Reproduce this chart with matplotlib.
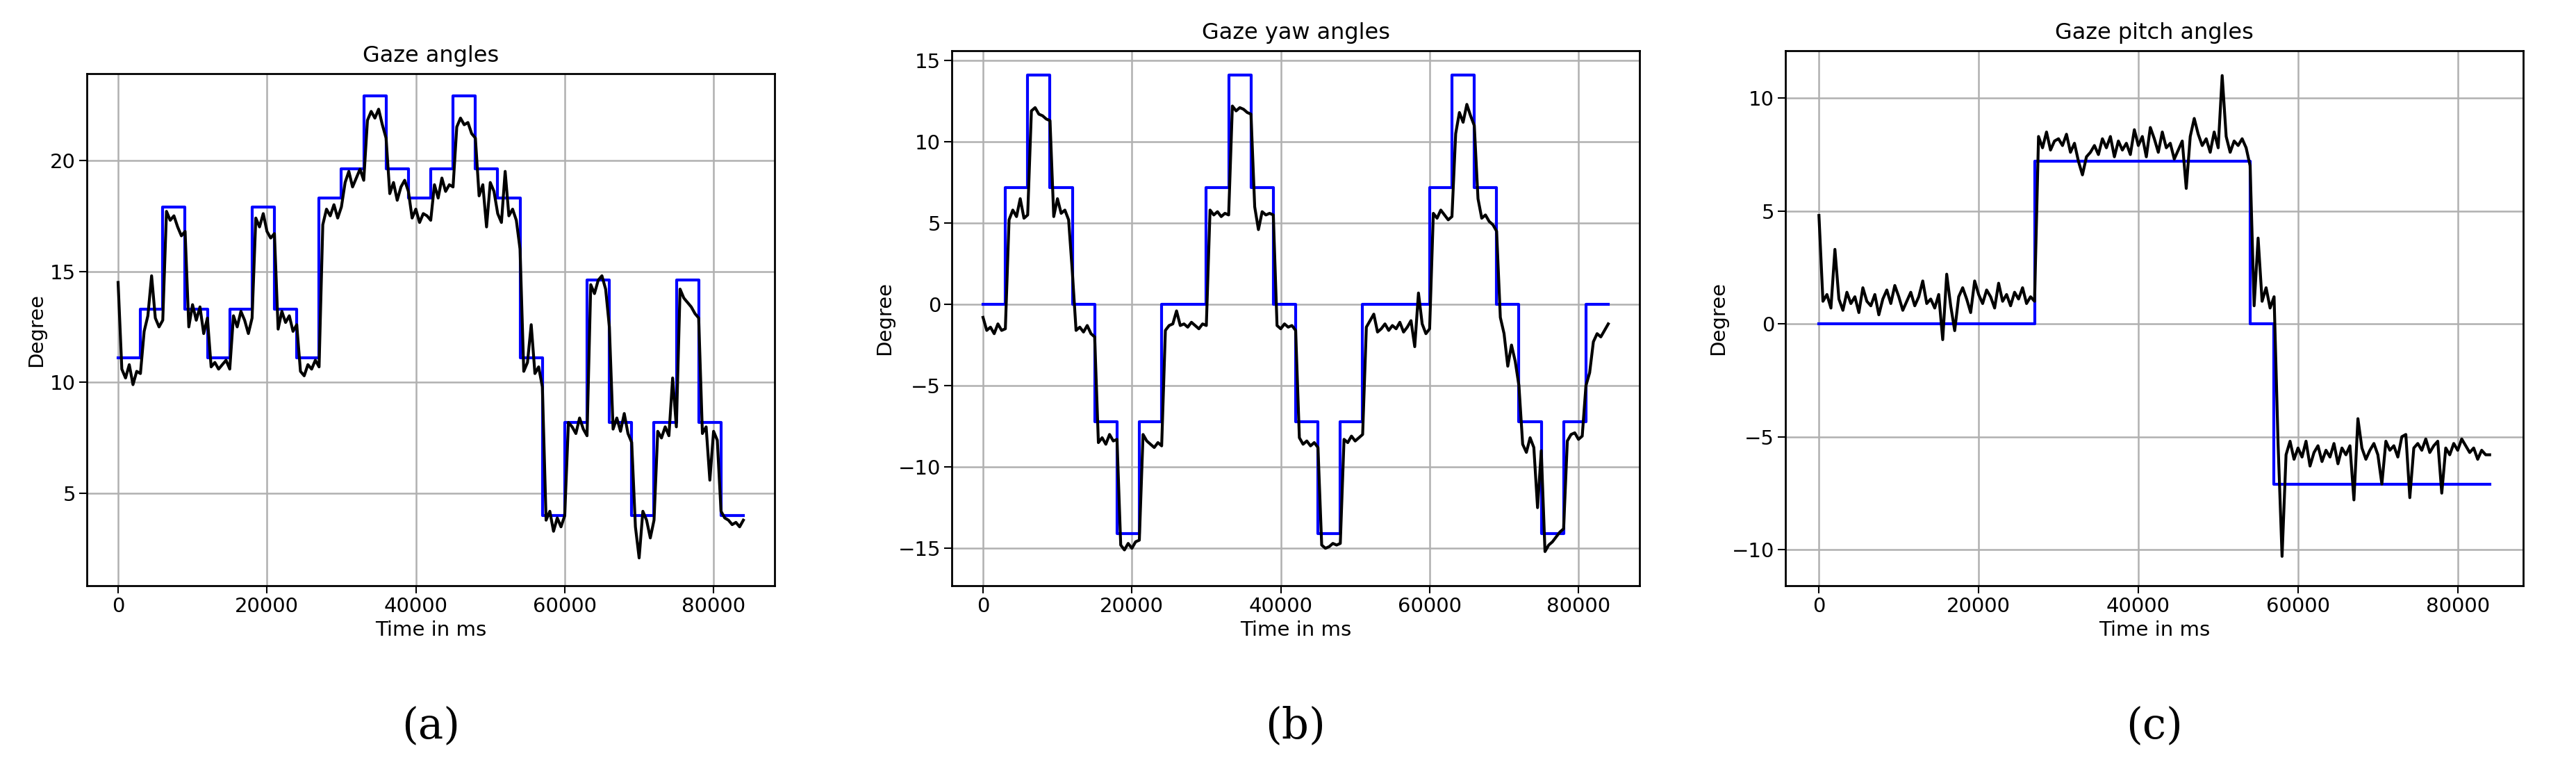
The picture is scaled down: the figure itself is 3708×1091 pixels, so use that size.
import numpy as np
import matplotlib
matplotlib.use("Agg")
import matplotlib.pyplot as plt

step_ms = 3000
sample_ms = 500

gaze_target = [11.1, 13.3, 17.9, 13.3, 11.1, 13.3, 17.9, 13.3, 11.1,
               18.3, 19.6, 22.9, 19.6, 18.3, 19.6, 22.9, 19.6, 18.3,
               11.1, 4.0, 8.2, 14.6, 8.2, 4.0, 8.2, 14.6, 8.2, 4.0]
yaw_target = [0, 7.2, 14.1, 7.2, 0, -7.2, -14.1, -7.2, 0,
              0, 7.2, 14.1, 7.2, 0, -7.2, -14.1, -7.2, 0,
              0, 0, 7.2, 14.1, 7.2, 0, -7.2, -14.1, -7.2, 0]
pitch_target = [0]*9 + [7.2]*9 + [0] + [-7.1]*9

gaze_meas = [
 14.5, 10.6, 10.2, 10.8, 9.9, 10.5,
 10.4, 12.3, 13.0, 14.8, 12.9, 12.5,
 12.8, 17.7, 17.3, 17.5, 17.0, 16.6,
 16.8, 12.5, 13.5, 12.8, 13.4, 12.2,
 12.9, 10.7, 10.9, 10.6, 10.8, 11.0,
 10.6, 13.0, 12.5, 13.2, 12.8, 12.2,
 12.9, 17.4, 17.0, 17.6, 16.8, 16.5,
 16.7, 12.4, 13.2, 12.7, 13.0, 12.3,
 12.6, 10.5, 10.3, 10.8, 10.6, 11.0,
 10.7, 17.1, 17.8, 17.5, 18.0, 17.4,
 17.9, 19.0, 19.5, 18.8, 19.2, 19.6,
 19.1, 21.8, 22.2, 21.9, 22.3, 21.6,
 21.0, 18.5, 19.0, 18.2, 18.8, 19.1,
 18.6, 17.4, 17.8, 17.2, 17.6, 17.5,
 17.3, 18.9, 18.3, 19.2, 18.6, 18.9,
 18.8, 21.5, 21.9, 21.6, 21.7, 21.2,
 21.0, 18.4, 18.9, 17.0, 19.0, 18.6,
 17.6, 17.2, 19.5, 17.5, 17.8, 17.3,
 16.0, 10.5, 10.9, 12.6, 10.4, 10.7,
 9.8, 3.8, 4.2, 3.3, 3.9, 3.5,
 4.0, 8.2, 8.0, 7.7, 8.4, 7.9,
 7.6, 14.4, 14.0, 14.6, 14.8, 14.2,
 12.5, 7.9, 8.4, 7.8, 8.6, 7.7,
 7.3, 3.5, 2.1, 4.2, 3.8, 3.0,
 3.8, 7.8, 7.5, 8.0, 7.6, 10.2,
 8.0, 14.2, 13.8, 13.6, 13.4, 13.1,
 12.9, 7.7, 8.0, 5.6, 7.8, 7.4,
 4.2, 3.9, 3.8, 3.6, 3.7, 3.5,
 3.8]

yaw_meas = [
 -0.8, -1.6, -1.4, -1.8, -1.2, -1.6,
 -1.5, 5.2, 5.8, 5.4, 6.5, 5.3,
 5.5, 11.9, 12.1, 11.7, 11.6, 11.4,
 11.3, 5.4, 6.5, 5.6, 5.8, 5.2,
 2.0, -1.6, -1.4, -1.7, -1.3, -1.8,
 -2.0, -8.5, -8.2, -8.6, -8.0, -8.4,
 -8.3, -14.8, -15.1, -14.7, -15.0, -14.6,
 -14.5, -8.0, -8.4, -8.6, -8.8, -8.5,
 -8.7, -1.6, -1.3, -1.2, -0.4, -1.3,
 -1.2, -1.4, -1.1, -1.3, -1.5, -1.2,
 -1.3, 5.8, 5.5, 5.7, 5.4, 5.6,
 5.5, 12.2, 11.9, 12.1, 12.0, 11.8,
 11.7, 6.0, 4.6, 5.7, 5.5, 5.6,
 5.5, -1.3, -1.5, -1.2, -1.4, -1.3,
 -1.6, -8.2, -8.6, -8.4, -8.7, -8.5,
 -8.8, -14.8, -15.0, -14.9, -14.7, -14.8,
 -14.7, -8.3, -8.5, -8.1, -8.4, -8.2,
 -8.0, -1.4, -1.0, -0.6, -1.7, -1.5,
 -1.2, -1.6, -1.3, -1.5, -1.1, -1.7,
 -1.4, -1.0, -2.6, 0.7, -1.2, -1.8,
 -1.5, 5.6, 5.3, 5.8, 5.5, 5.2,
 5.4, 10.5, 11.8, 11.2, 12.3, 11.6,
 11.0, 6.5, 5.3, 5.5, 5.1, 4.9,
 4.5, -0.8, -1.8, -3.8, -2.5, -3.5,
 -5.0, -8.6, -9.1, -8.2, -8.8, -12.5,
 -9.0, -15.2, -14.8, -14.6, -14.3, -14.0,
 -13.8, -8.4, -8.0, -7.9, -8.3, -8.1,
 -5.0, -4.2, -2.3, -1.8, -2.0, -1.6,
 -1.2]

pitch_meas = [
 4.8, 1.0, 1.3, 0.7, 3.3, 1.1,
 0.6, 1.4, 0.9, 1.2, 0.5, 1.6,
 1.0, 0.8, 1.3, 0.4, 1.1, 1.5,
 0.9, 1.7, 1.2, 0.6, 1.0, 1.4,
 0.8, 1.2, 1.9, 0.9, 1.1, 0.7,
 1.3, -0.7, 2.2, 0.8, -0.3, 1.2,
 1.6, 1.1, 0.5, 1.9, 1.3, 0.9,
 1.5, 1.2, 0.7, 1.8, 1.0, 1.3,
 0.8, 1.4, 1.1, 1.6, 0.9, 1.2,
 1.0, 8.3, 7.8, 8.5, 7.7, 8.1,
 8.2, 7.9, 8.4, 7.6, 8.0, 7.2,
 6.6, 7.4, 7.6, 7.9, 7.5, 8.2,
 7.8, 8.3, 7.4, 8.1, 7.7, 8.0,
 7.5, 8.6, 7.9, 8.3, 7.4, 8.7,
 8.2, 7.6, 8.5, 7.8, 8.0, 7.3,
 7.7, 8.1, 6.0, 8.3, 9.1, 8.4,
 7.9, 8.2, 7.6, 8.5, 7.8, 11.0,
 8.3, 7.6, 8.1, 7.9, 8.2, 7.8,
 7.0, 0.8, 3.8, 1.0, 1.6, 0.7,
 1.2, -5.3, -10.3, -5.8, -5.2, -6.0,
 -5.5, -5.9, -5.2, -6.3, -5.7, -5.4,
 -6.1, -5.6, -5.9, -5.3, -6.2, -5.5,
 -5.8, -5.4, -7.8, -4.2, -5.5, -6.0,
 -5.6, -5.3, -5.8, -7.1, -5.2, -5.6,
 -5.4, -5.9, -5.0, -4.9, -7.7, -5.5,
 -5.3, -5.6, -5.1, -5.7, -5.4, -5.2,
 -7.5, -5.5, -5.8, -5.3, -5.6, -5.1,
 -5.4, -5.7, -5.5, -6.0, -5.6, -5.8,
 -5.8]

titles = ["Gaze angles", "Gaze yaw angles", "Gaze pitch angles"]
letters = ["(a)", "(b)", "(c)"]
ylims = [(0.85, 23.9), (-17.3, 15.6), (-11.6, 12.1)]
yticks = [[5, 10, 15, 20], [-15, -10, -5, 0, 5, 10, 15], [-10, -5, 0, 5, 10]]

W, H = 3708, 1091
fig = plt.figure(figsize=(W/100, H/100), dpi=100)
boxes = [(125, 1115, 106, 843), (1370, 2360, 73, 843), (2570, 3632, 73, 843)]

targets = [gaze_target, yaw_target, pitch_target]
meas = [gaze_meas, yaw_meas, pitch_meas]

for i in range(3):
    l, r, t, b = boxes[i]
    ax = fig.add_axes([l/W, 1-b/H, (r-l)/W, (b-t)/H])
    tgt = targets[i]
    te = np.arange(len(tgt)+1) * step_ms
    ax.plot(te, list(tgt) + [tgt[-1]], drawstyle="steps-post", color="blue", lw=3, zorder=2)
    tm = np.arange(len(meas[i])) * sample_ms
    ax.plot(tm, meas[i], color="black", lw=3, zorder=3)
    ax.set_xlim(-4200, 88200)
    ax.set_ylim(*ylims[i])
    ax.set_yticks(yticks[i])
    ax.set_xticks([0, 20000, 40000, 60000, 80000])
    ax.grid(True, color="#b0b0b0", lw=1.8)
    ax.tick_params(labelsize=21, length=8, width=1.5)
    for s in ax.spines.values():
        s.set_linewidth(2)
    ax.set_title(titles[i], fontsize=23, pad=12)
    ax.set_xlabel("Time in ms", fontsize=21)
    ax.set_ylabel("Degree", fontsize=21)
    fig.text((l+r)/2/W, 1-1045/H, letters[i], ha="center", va="center",
             fontsize=44, family="DejaVu Serif")

fig.savefig("out.png", dpi=100)
